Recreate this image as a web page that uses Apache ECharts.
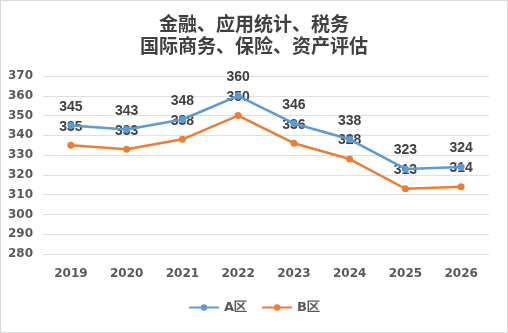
<!DOCTYPE html>
<html><head><meta charset="utf-8">
<script src="https://cdn.jsdelivr.net/npm/echarts@6/dist/echarts.min.js"></script>
<style>html,body{margin:0;padding:0;background:#fff}#c{width:506px;height:331px;border:1px solid #d9d9d9}</style>
</head><body><div id="c"></div>
<script>
const titleLines = ['金融、应用统计、税务', '国际商务、保险、资产评估'];
const categories = ['2019','2020','2021','2022','2023','2024','2025','2026'];
const seriesA = [345,343,348,360,346,338,323,324];
const seriesB = [335,333,338,350,336,328,313,314];
const seriesNames = ['A区','B区'];
const yTicks = {min:280, max:370, interval:10};

const chart = echarts.init(document.getElementById('c'));
const lbl = {show:true, position:'top', distance:8, color:'#404040', fontWeight:'bold', fontSize:14, fontFamily:'Liberation Sans'};
chart.setOption({
  animation:false,
  title:{text:titleLines.join('\n'), left:'center', top:7,
    textStyle:{fontFamily:'Noto Sans CJK SC', fontWeight:'bold', fontSize:19, color:'#404040', lineHeight:22}},
  grid:{left:42, right:18, top:75, bottom:78},
  legend:{bottom:13, left:'center', itemWidth:30, itemHeight:8, itemGap:14,
    textStyle:{fontFamily:'DejaVu Sans', fontWeight:'bold', fontSize:13, color:'#595959'},
    data:seriesNames},
  xAxis:{type:'category', data:categories, boundaryGap:true,
    axisLine:{show:false}, axisTick:{show:false},
    axisLabel:{color:'#595959', fontWeight:'bold', fontSize:12, fontFamily:'DejaVu Sans', margin:14}},
  yAxis:{type:'value', min:yTicks.min, max:yTicks.max, interval:yTicks.interval,
    axisLine:{show:false}, axisTick:{show:false},
    axisLabel:{color:'#595959', fontWeight:'bold', fontSize:12, fontFamily:'DejaVu Sans', margin:10},
    splitLine:{lineStyle:{color:'#e0e0e0', width:1}}},
  series:[
    {name:seriesNames[0], type:'line', data:seriesA, symbol:'circle', symbolSize:7,
     itemStyle:{color:'#5B9BD5'}, lineStyle:{width:2.5, color:'#5B9BD5'}, label:lbl},
    {name:seriesNames[1], type:'line', data:seriesB, symbol:'circle', symbolSize:7,
     itemStyle:{color:'#ED7D31'}, lineStyle:{width:2.5, color:'#ED7D31'}, label:lbl, z:1}
  ]
});
</script></body></html>
